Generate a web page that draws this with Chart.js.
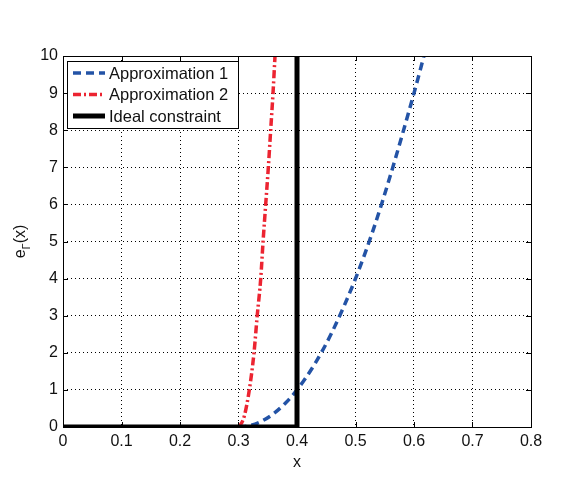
<!DOCTYPE html>
<html>
<head>
<meta charset="utf-8">
<script src="https://cdn.jsdelivr.net/npm/chart.js@4"></script>
<style>
  html, body { margin: 0; padding: 0; background: #fff; }
  #wrap { width: 571px; height: 482px; }
</style>
</head>
<body>
<div id="wrap"><canvas id="c" width="571" height="482"></canvas></div>
<script>
/* e_Γ(x) vs x: two approximations and the ideal constraint */

const xTicks = [0, 0.1, 0.2, 0.3, 0.4, 0.5, 0.6, 0.7, 0.8];
const yTicks = [0, 1, 2, 3, 4, 5, 6, 7, 8, 9, 10];

const approx1X = [0.30, 0.32, 0.34, 0.36, 0.38, 0.40, 0.43, 0.46, 0.50, 0.53, 0.56, 0.60, 0.617];
const approx1Y = [0, 0.04, 0.16, 0.36, 0.64, 1.0, 1.69, 2.56, 4.0, 5.3, 6.8, 9.0, 10.0];

const approx2X = [0.300, 0.305, 0.310, 0.3185, 0.3265, 0.332, 0.338, 0.342, 0.3465, 0.351, 0.355, 0.359, 0.3624];
const approx2Y = [0, 0.1, 0.3, 1, 2, 3, 4, 5, 6, 7, 8, 9, 10];

const idealX = [0, 0.4, 0.4];
const idealY = [0, 0, 10];

const FONT = "'Liberation Sans', Arial, sans-serif";
const pts = (xs, ys) => xs.map((x, i) => ({ x, y: ys[i] }));

// legend drawn by hand so the line samples keep their dash pattern
const boxLegend = {
  id: "boxLegend",
  afterDraw(chart) {
    const ctx = chart.ctx;
    const a = chart.chartArea;
    const x0 = a.left + 4, y0 = a.top + 5, w = 171, h = 67;
    ctx.save();
    ctx.fillStyle = "#fff";
    ctx.fillRect(x0, y0, w, h);
    ctx.strokeStyle = "#000";
    ctx.lineWidth = 1;
    ctx.strokeRect(x0 + 0.5, y0 + 0.5, w, h);
    ctx.font = `16.5px ${FONT}`;
    ctx.textBaseline = "middle";
    chart.data.datasets.forEach((ds, i) => {
      const y = y0 + 12 + i * 21.5;
      ctx.beginPath();
      ctx.setLineDash(ds.borderDash || []);
      ctx.strokeStyle = ds.borderColor;
      ctx.lineWidth = ds.borderWidth;
      ctx.moveTo(x0 + 6, y);
      ctx.lineTo(x0 + 38, y);
      ctx.stroke();
      ctx.setLineDash([]);
      ctx.fillStyle = "#111";
      ctx.fillText(ds.label, x0 + 42, y + 1);
    });
    ctx.restore();
  },
};

// y title with subscript Gamma
const yTitle = {
  id: "yTitle",
  afterDraw(chart) {
    const ctx = chart.ctx;
    const a = chart.chartArea;
    ctx.save();
    ctx.translate(20, (a.top + a.bottom) / 2);
    ctx.rotate(-Math.PI / 2);
    ctx.fillStyle = "#111";
    ctx.textBaseline = "alphabetic";
    const e = "e", g = "Γ", p = "(x)";
    ctx.font = `16px ${FONT}`;
    const we = ctx.measureText(e).width, wp = ctx.measureText(p).width;
    ctx.font = `11px ${FONT}`;
    const wg = ctx.measureText(g).width;
    let x = -(we + wg + wp) / 2;
    ctx.font = `16px ${FONT}`;
    ctx.fillText(e, x, 5);
    x += we;
    ctx.font = `11px ${FONT}`;
    ctx.fillText(g, x, 10);
    x += wg;
    ctx.font = `16px ${FONT}`;
    ctx.fillText(p, x, 5);
    ctx.restore();
  },
};

// MATLAB-style box and inward ticks
const axesBox = {
  id: "axesBox",
  afterDatasetsDraw(chart) {
    const ctx = chart.ctx;
    const a = chart.chartArea;
    const xs = chart.scales.x, ys = chart.scales.y;
    ctx.save();
    ctx.strokeStyle = "#000";
    ctx.lineWidth = 1;
    ctx.beginPath();
    xTicks.forEach((t) => {
      const px = Math.round(xs.getPixelForValue(t)) + 0.5;
      ctx.moveTo(px, a.bottom); ctx.lineTo(px, a.bottom - 5);
      ctx.moveTo(px, a.top); ctx.lineTo(px, a.top + 5);
    });
    yTicks.forEach((t) => {
      const py = Math.round(ys.getPixelForValue(t)) + 0.5;
      ctx.moveTo(a.left, py); ctx.lineTo(a.left + 5, py);
      ctx.moveTo(a.right, py); ctx.lineTo(a.right - 5, py);
    });
    ctx.stroke();
    ctx.strokeRect(a.left + 0.5, a.top + 0.5, a.right - a.left, a.bottom - a.top);
    ctx.restore();
  },
};

const gridOpts = { color: "#000", lineWidth: 1, drawTicks: false };
const borderOpts = { display: false, dash: [1, 3] };

new Chart(document.getElementById("c"), {
  type: "scatter",
  data: {
    datasets: [
      {
        label: "Approximation 1",
        data: pts(approx1X, approx1Y), order: 2,
        showLine: true, pointRadius: 0, cubicInterpolationMode: "monotone",
        borderColor: "#2353a6", borderWidth: 3.5, borderDash: [8, 5],
      },
      {
        label: "Approximation 2",
        data: pts(approx2X, approx2Y), order: 1,
        showLine: true, pointRadius: 0, cubicInterpolationMode: "monotone",
        borderColor: "#ec2431", borderWidth: 3.5, borderDash: [8, 3, 2, 3],
      },
      {
        label: "Ideal constraint",
        data: pts(idealX, idealY), order: 0,
        showLine: true, pointRadius: 0, tension: 0,
        borderColor: "#000", borderWidth: 5,
      },
    ],
  },
  options: {
    responsive: false,
    animation: false,
    events: [],
    layout: { padding: { top: 56, right: 40, left: 0, bottom: 0 } },
    plugins: { legend: { display: false }, tooltip: { enabled: false } },
    scales: {
      x: {
        type: "linear", min: 0, max: 0.8,
        afterBuildTicks: (s) => { s.ticks = xTicks.map((v) => ({ value: v })); },
        afterFit: (s) => { s.height = 55; },
        border: borderOpts,
        grid: gridOpts,
        ticks: { color: "#111", font: { family: FONT, size: 16 }, padding: 5, maxRotation: 0,
                 callback: (v) => String(v) },
        title: { display: true, text: "x", color: "#111", font: { family: FONT, size: 16 }, padding: { top: 0, bottom: 10 } },
      },
      y: {
        type: "linear", min: 0, max: 10,
        afterBuildTicks: (s) => { s.ticks = yTicks.map((v) => ({ value: v })); },
        afterFit: (s) => { s.width = 63; },
        border: borderOpts,
        grid: gridOpts,
        ticks: { color: "#111", font: { family: FONT, size: 16 }, padding: 5 },
      },
    },
  },
  plugins: [axesBox, boxLegend, yTitle],
});
</script>
</body>
</html>
